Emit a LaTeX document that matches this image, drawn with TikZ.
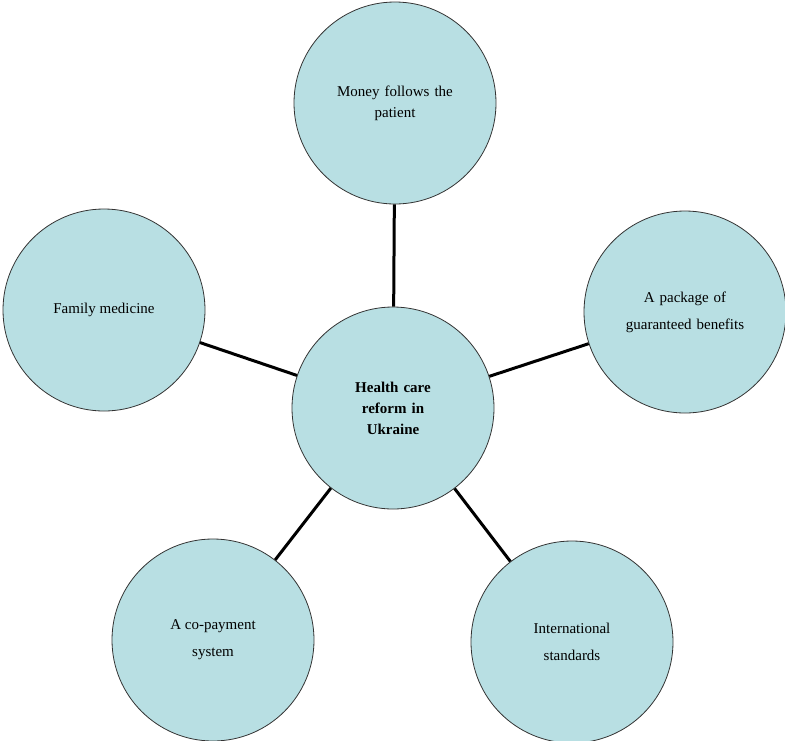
\documentclass[tikz,border=0pt]{standalone}
\usepackage{fontspec}
\setmainfont{Liberation Serif}
\begin{document}
\begin{tikzpicture}[x=1pt,y=-1pt,
  circ/.style={circle,draw=black!80,line width=0.8pt,fill=teal1,minimum size=202pt,inner sep=0pt,align=center,font=\fontsize{15}{27}\selectfont},
  link/.style={line width=3pt,black}]
\definecolor{teal1}{HTML}{B8DFE3}
\useasboundingbox (0,0) rectangle (785,740);
\node[circ,text width=150pt] (c) at (393,408) {\textbf{Health care}\\[-6pt]\textbf{reform in}\\[-6pt]\textbf{Ukraine}};
\node[circ,text width=150pt] (t) at (395,103) {Money follows the\\[-6pt]patient};
\node[circ,text width=180pt] (r) at (685,312) {A package of\\guaranteed benefits};
\node[circ] (l) at (104,310) {Family medicine};
\node[circ] (bl) at (213,640) {A co-payment\\system};
\node[circ] (br) at (572,642) {International\\standards};
\foreach \n in {t,r,l,bl,br} \draw[link] (c) -- (\n);
\end{tikzpicture}
\end{document}
